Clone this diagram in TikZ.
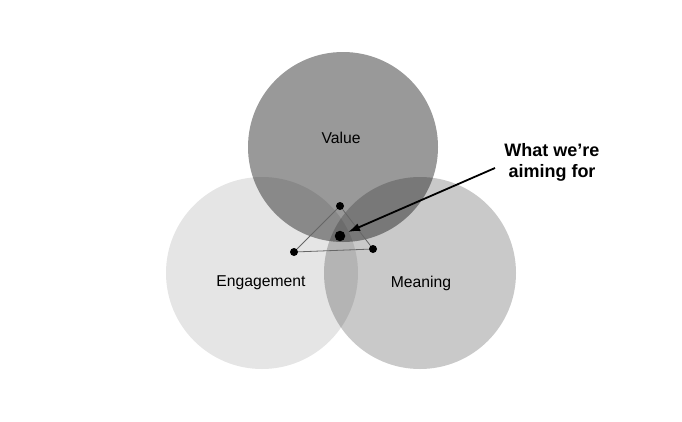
\documentclass[tikz,border=0pt]{standalone}
\usepackage{fontspec}
\setmainfont{Liberation Sans}
\usetikzlibrary{arrows.meta}
\begin{document}
\begin{tikzpicture}[x=1pt,y=-1pt,
  circ/.style={fill=black,fill opacity=#1},
  lbl/.style={font=\fontsize{15.7}{18}\selectfont,text=black},
  dot/.style={circle,fill=black,inner sep=0pt,minimum size=#1},
  tri/.style={draw=black!60,line width=0.8pt}]
\useasboundingbox[fill=white] (0,0) rectangle (682,421);
\fill[circ=0.1] (262,273) circle (96);
\fill[circ=0.21] (420,273) circle (96);
\fill[circ=0.4] (343,147) circle (95);
\node[lbl] (value) at (341,138) {Value};
\node[lbl] (eng) at (261,283) {Engagement};
\node[lbl] (mean) at (421,283) {Meaning};
\node[dot=8pt] (t) at (340,206) {};
\node[dot=8pt] (l) at (294,252) {};
\node[dot=8pt] (r) at (373,249) {};
\node[dot=10.5pt] (c) at (340,236) {};
\draw[tri] (t) -- (l) -- (r) -- (t);
\node[font=\bfseries\fontsize{18}{21}\selectfont,align=center] (aim) at (552,162) {What we’re\\aiming for};
\coordinate (as) at (495,168);
\coordinate (ae) at (348,232);
\draw[line width=1.8pt,-{Latex[length=12pt,width=8pt]}] (as) -- (ae);
\end{tikzpicture}
\end{document}
